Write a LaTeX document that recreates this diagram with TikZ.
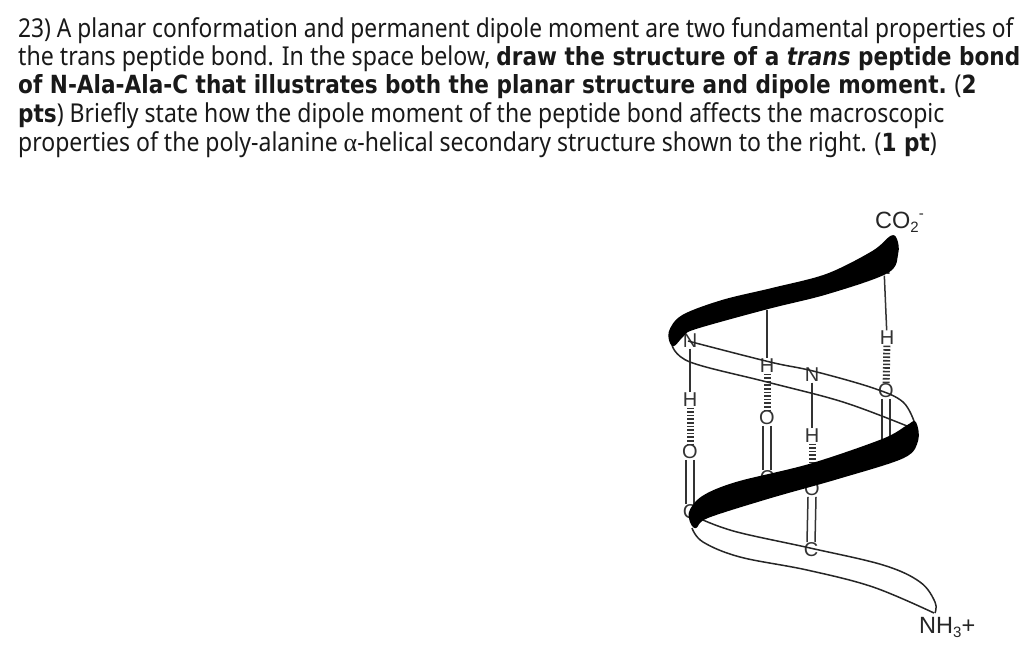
\documentclass[tikz,border=0pt]{standalone}
\usepackage{fontspec}
\setmainfont[FakeStretch=0.885]{Noto Sans}
\newfontfamily\lineone[FakeStretch=0.875]{Noto Sans}
\newfontfamily\linetwo[FakeStretch=0.89]{Noto Sans}
\newfontfamily\boldf[FakeStretch=0.864]{DejaVu Sans Bold}
\newfontfamily\boldit[FakeStretch=0.864]{DejaVu Sans Bold Oblique}
\newfontfamily\serf{Liberation Serif}
\newfontfamily\atomf{Liberation Sans}
\newcommand{\bfx}[1]{{\boldf\fontsize{25}{30}\selectfont #1}}
\newcommand{\bfi}[1]{{\boldit\fontsize{25}{30}\selectfont #1}}
\newcommand{\lowtxt}[1]{\raisebox{-4pt}{\fontsize{15}{15}\selectfont #1}}
\newcommand{\hightxt}[1]{\raisebox{10pt}{\fontsize{15}{15}\selectfont #1}}
\tikzset{
  para/.style={anchor=base west,inner sep=0pt,font=\fontsize{26}{30}\selectfont,text=black!90},
  atom/.style={inner sep=0.5pt,text=black!80,font=\atomf\fontsize{20}{20}\selectfont},
  endlabel/.style={inner sep=0pt,anchor=base west,text=black!85,font=\atomf\fontsize{23.5}{24}\selectfont},
  bond/.style={line width=1.5pt,black!80},
  hatch/.style={line width=7pt,black!80,dash pattern=on 1.6pt off 2pt},
  ribbon/.style={line width=1.5pt,black!85},
  thick ribbon/.style={fill=black,draw=black,line width=2.5pt,line join=round}
}
\begin{document}
\begin{tikzpicture}[x=1pt,y=-1pt]
\useasboundingbox (0,0) rectangle (1024,665);
\fill[white] (0,0) rectangle (1024,665);
% question text
\node[para] (l1) at (18,37) {\lineone 23) A planar conformation and permanent dipole moment are two fundamental properties of};
\node[para] (l2) at (18,65) {{\linetwo the trans peptide bond. In the space below,} \bfx{draw the structure of a }\bfi{trans}\bfx{ peptide bond}};
\node[para] (l3) at (18,93) {\bfx{of N-Ala-Ala-C that illustrates both the planar structure and dipole moment.} (\bfx{2}};
\node[para] (l4) at (18,122) {\bfx{pts}) Briefly state how the dipole moment of the peptide bond affects the macroscopic};
\node[para] (l5) at (18,151) {properties of the poly-alanine {\serf α}-helical secondary structure shown to the right. (\bfx{1 pt})};
% atoms: column 1
\node[atom] (n1) at (690,341) {N};
\node[atom] (h1) at (690,400) {H};
\node[atom] (o1) at (690,452) {O};
\node[atom] (c1) at (690,512) {C};
% column 2
\node[atom] (n2) at (767,302) {N};
\node[atom] (h2) at (767,366) {H};
\node[atom] (o2) at (767,418) {O};
\node[atom] (c2) at (767,478) {C};
% column 3
\node[atom] (n3) at (812,375) {N};
\node[atom] (h3) at (812,436) {H};
\node[atom] (o3) at (812,489) {O};
\node[atom] (c3) at (811,550) {C};
% column 4
\node[atom] (n4) at (884,268) {N};
\node[atom] (h4) at (887,338) {H};
\node[atom] (o4) at (886,391) {O};
\node[atom] (c4) at (886,450) {C};
% bonds
\foreach \col in {1,2,3,4}{
  \draw[bond] (n\col) -- (h\col);
  \draw[hatch] (h\col) -- (o\col);
  \draw[bond] ([xshift=-4pt]o\col.south) -- ([xshift=-4pt]c\col.north);
  \draw[bond] ([xshift=4pt]o\col.south) -- ([xshift=4pt]c\col.north);
}
% thin ribbon sections
\draw[ribbon] plot[smooth,tension=0.6] coordinates {(688,341) (770,362) (813,371) (873,388) (903,402) (915,424)};
\draw[ribbon] plot[smooth,tension=0.6] coordinates {(672,345) (690,362) (767,382) (843,402) (907,426)};
\draw[ribbon] plot[smooth,tension=0.6] coordinates {(703,520) (737,532) (810,548) (883,565) (920,582) (935,602) (935,613)};
\draw[ribbon] plot[smooth,tension=0.6] coordinates {(692,528) (703,542) (740,557) (807,570) (873,587) (934,613)};
% thick ribbon sections
\draw[thick ribbon] plot[smooth cycle,tension=0.55] coordinates {(891,237) (873,252) (827,275) (773,289) (723,301) (683,316) (670,332) (673,345) (683,335) (695,328) (767,308) (827,293) (887,272) (897,253) (896,240)};
\draw[thick ribbon] plot[smooth cycle,tension=0.55] coordinates {(915,423) (908,426) (883,440) (810,465) (737,483) (703,497) (690,513) (695,527) (707,517) (770,497) (837,478) (903,457) (917,440)};
% end labels
\node[endlabel] (co2) at (875,228) {CO\lowtxt{2}\hightxt{-}};
\node[endlabel] (nh3) at (919,633) {NH\lowtxt{3}+};
\end{tikzpicture}
\end{document}
